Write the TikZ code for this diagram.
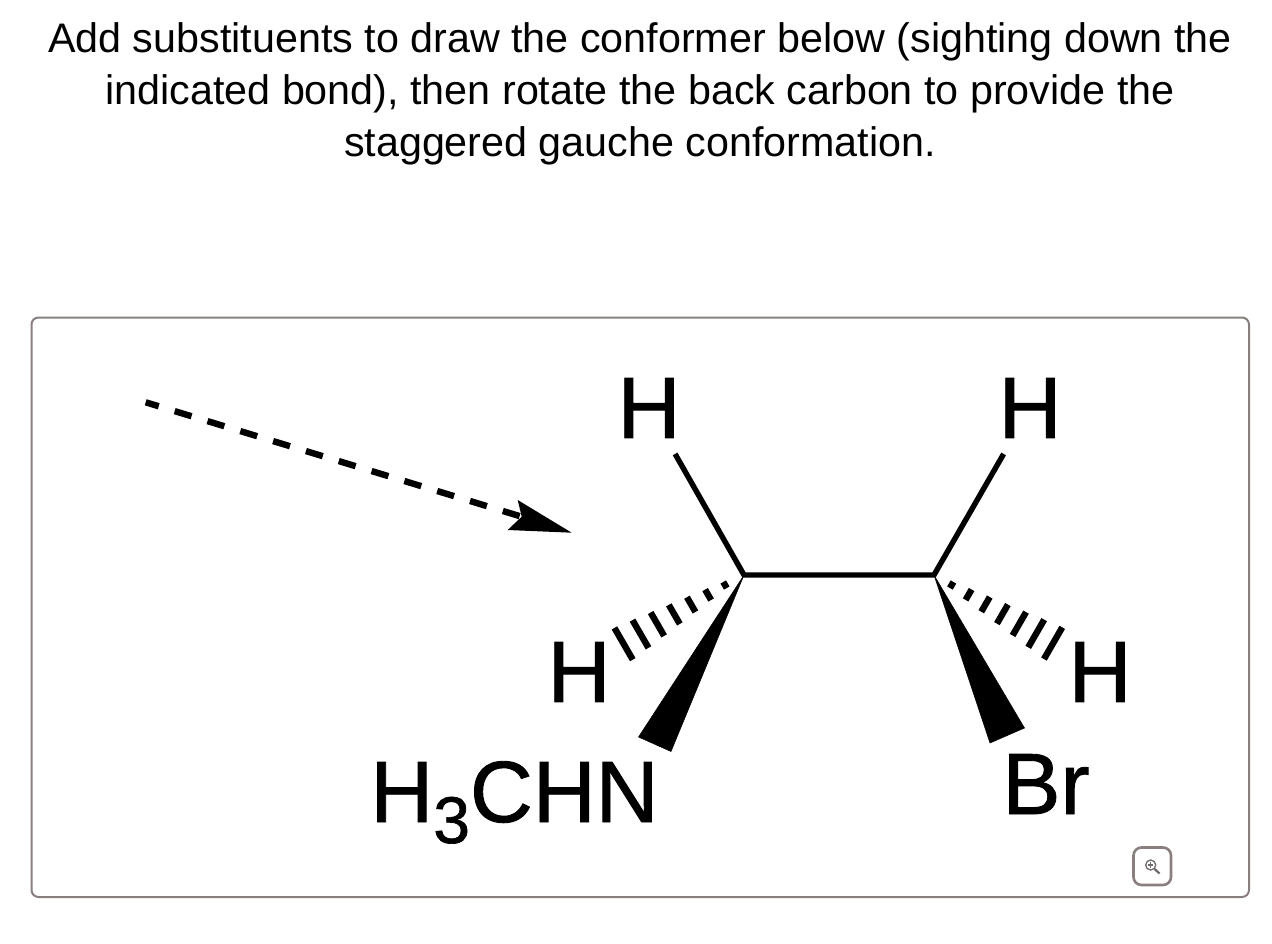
\documentclass[tikz,border=0pt]{standalone}
\usepackage{fontspec}
\setmainfont{Liberation Sans}
\newfontfamily\atomfamily[FakeBold=1]{Liberation Sans}
\definecolor{framegray}{HTML}{8A7F7F}
\definecolor{icongray}{HTML}{6E6A6A}
\newcommand{\labelfont}{\atomfamily\fontsize{87}{87}\selectfont}
\tikzset{
	atom/.style={inner sep=0pt, outer sep=16pt, font=\labelfont},
	atomtext/.style={inner sep=0pt, anchor=base, font=\labelfont},
	bond/.style={line width=5.4pt, line join=miter},
	hash/.style={line width=6.4pt},
	wedge/.style={fill=black, draw=black, line width=0.5pt, line join=miter}
}
\begin{document}
\begin{tikzpicture}[x=1pt, y=-1pt]
\useasboundingbox (0,0) rectangle (1272,944);

% question
\node [inner sep=0pt, align=center, anchor=north, font=\fontsize{41.27}{52}\selectfont] (question) at (640,22)
	{Add substituents to draw the conformer below (sighting down the\\
	indicated bond), then rotate the back carbon to provide the\\
	staggered gauche conformation.};

% frame and zoom button
\draw [framegray, line width=2pt, rounded corners=7pt] (31.5,317.5) rectangle (1249,897);
\draw [framegray, line width=2.6pt, rounded corners=8pt] (1133.5,847.5) rectangle (1171,885);
\draw [icongray, line width=1.3pt] (1150.7,865) circle (5pt);
\draw [icongray, line width=1.1pt] (1148,865) -- ++(5.4,0);
\draw [icongray, line width=1.1pt] (1150.7,862.3) -- ++(0,5.4);
\draw [icongray, line width=2.2pt] (1154.6,869) -- (1159.5,873.5);

% sighting arrow
\coordinate (arrowstart) at (145.7,402.3);
\coordinate (arrowend) at (521,516.5);
\coordinate (arrowtip) at (571.7,532.7);
\draw [line width=6.4pt, dash pattern=on 17.6pt off 16.7pt, dash phase=4pt] (arrowstart) -- (arrowend);
\fill (arrowtip) -- (507.7,530) -- (521.7,516.7) -- (517.7,500) -- cycle;

% carbons
\coordinate (leftc) at (744,575);
\coordinate (rightc) at (934,575);

% labels
\node [atom] (tophl) at (649,408) {H};
\node [atom] (tophr) at (1030,408) {H};
\node [atom] (hashhl) at (579,672) {H};
\node [atom] (hashhr) at (1100,672) {H};
\node [atomtext] (amine) at (514.5,822) {H\raisebox{-21pt}{\fontsize{66}{66}\selectfont 3}CHN};
\node [atomtext] (bromine) at (1046,814) {Br};

% bonds
\draw [bond] (tophl) -- (leftc) -- (rightc) -- (tophr);
\fill [wedge] (leftc) -- (638.5,737) -- (671,751.5) -- cycle;
\fill [wedge] (rightc) -- (1024.5,728) -- (990,743) -- cycle;

\foreach \i/\h in {0/3.5, 1/6, 2/8.5, 3/11, 4/13.5, 5/16, 6/18.3}
{
	\draw [hash] ({725-16.9*\i-0.5*\h},{585+9.8*\i-0.866*\h}) -- ++({\h},{1.732*\h});
	\draw [hash] ({951.7+16.9*\i+0.5*\h},{585+9.7*\i-0.866*\h}) -- ++({-\h},{1.732*\h});
}
\end{tikzpicture}
\end{document}
